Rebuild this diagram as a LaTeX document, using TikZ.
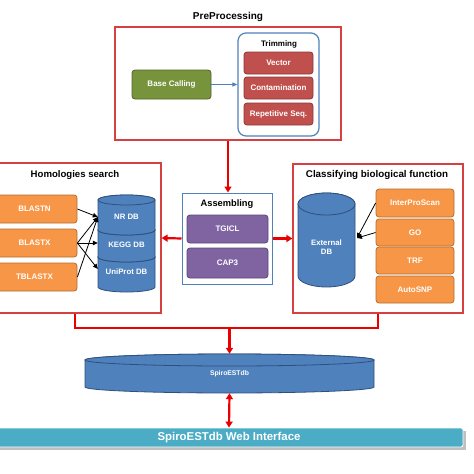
\documentclass[tikz,border=0pt]{standalone}
\usepackage{fontspec}
\setmainfont{Liberation Sans}
\usetikzlibrary{arrows.meta}
\definecolor{grnF}{RGB}{119,147,60}\definecolor{grnD}{RGB}{80,100,40}
\definecolor{redF}{RGB}{192,80,77}\definecolor{redD}{RGB}{140,56,54}
\definecolor{orgF}{RGB}{247,150,70}\definecolor{orgD}{RGB}{182,109,49}
\definecolor{purF}{RGB}{128,100,162}\definecolor{purD}{RGB}{92,71,118}
\definecolor{bluF}{RGB}{79,129,189}\definecolor{bluD}{RGB}{47,80,125}
\definecolor{frameR}{RGB}{214,64,64}
\definecolor{arrR}{RGB}{235,0,0}
\definecolor{teal}{RGB}{75,172,198}
\newcommand\mycyl[6]{%
  \pgfmathsetmacro\rxx{(#3-#2)/2}%
  \filldraw[#1] (#2,#4) -- (#2,#5) arc[start angle=180,end angle=360,x radius=\rxx,y radius=#6] -- (#3,#4) arc[start angle=0,end angle=180,x radius=\rxx,y radius=#6] -- cycle;
  \filldraw[#1] ({(#2+#3)/2},#4) ellipse[x radius=\rxx,y radius=#6];
}
\begin{document}
\begin{tikzpicture}[x=1pt,y=1pt,
  title/.style={font=\bfseries\fontsize{10}{12}\selectfont, text=black},
  sub/.style={font=\bfseries\fontsize{8}{10}\selectfont, text=black},
  lab/.style={rounded corners=3pt, line width=0.8pt, text=white, inner sep=0pt,
     font=\bfseries\fontsize{8}{9.5}\selectfont},
  grn/.style={lab, fill=grnF, draw=grnD},
  rbox/.style={lab, fill=redF, draw=redD},
  obox/.style={lab, fill=orgF, draw=orgD},
  pbox/.style={lab, fill=purF, draw=purD},
  frm/.style={draw=frameR, line width=1.2pt, inner sep=0pt},
  bfrm/.style={draw=bluF, line width=1.2pt, inner sep=0pt},
  dbs/.style={fill=bluF, draw=bluD, line width=0.8pt},
  dblab/.style={text=white, inner sep=0pt, font=\bfseries\fontsize{7.8}{9.5}\selectfont},
  redarr/.style={draw=arrR, line width=2.2pt, -{Triangle[length=6pt,width=7pt]}},
  blkarr/.style={draw=black, line width=0.8pt, -{Triangle[length=5pt,width=4.5pt]}},
]
\useasboundingbox (0,0) rectangle (474,-474);
\clip (0,0) rectangle (474,-474);
\fill[white] (0,0) rectangle (474,-474);

% PreProcessing
\node[title] (pret) at (228,-17) {PreProcessing};
\node[frm, minimum width=226, minimum height=113] (pre) at (228,-83.5) {};
\node[bfrm, rounded corners=8pt, minimum width=81, minimum height=103] (trim) at (278.5,-84.5) {};
\node[sub] (trimt) at (279,-44) {Trimming};
\node[rbox, minimum width=69, minimum height=22] (vec) at (278.5,-63) {Vector};
\node[rbox, minimum width=69, minimum height=22] (cont) at (278.5,-88) {Contamination};
\node[rbox, minimum width=69, minimum height=22] (rep) at (278.5,-114) {Repetitive Seq.};
\node[grn, minimum width=79, minimum height=29] (base) at (171.5,-84.5) {Base Calling};
\draw[draw=bluF, line width=1pt, -{Triangle[length=5pt,width=4pt]}] (base.east) -- (trim.west);

% Assembling
\node[bfrm, line width=1pt, minimum width=90, minimum height=91] (asm) at (227,-238.5) {};
\node[title, font=\bfseries\fontsize{9.3}{11}\selectfont] (asmt) at (227,-204) {Assembling};
\node[pbox, minimum width=81, minimum height=28] (tgicl) at (227.5,-229) {TGICL};
\node[pbox, minimum width=81, minimum height=30] (cap) at (227.5,-263) {CAP3};
\draw[redarr] (pre.south) -- (pre.south |- asm.north);

% Homologies
\node[frm, minimum width=166, minimum height=150] (hom) at (78,-238) {};
\node[title, font=\bfseries\fontsize{9.6}{11}\selectfont] (homt) at (75,-175) {Homologies search};
\node[obox, minimum width=85, minimum height=28] (bn) at (34.5,-209) {BLASTN};
\node[obox, minimum width=85, minimum height=28] (bx) at (34.5,-243) {BLASTX};
\node[obox, minimum width=85, minimum height=28] (tb) at (34.5,-277) {TBLASTX};
\mycyl{dbs}{98}{155}{-257}{-287}{5}
\mycyl{dbs}{98}{155}{-230}{-257}{5}
\mycyl{dbs}{98}{155}{-200}{-230}{5}
\node[dblab, minimum width=57] (nr) at (126.5,-217) {NR DB};
\node[dblab, minimum width=57] (kegg) at (126.5,-245) {KEGG DB};
\node[dblab, minimum width=57] (uni) at (126.5,-272) {UniProt DB};
\draw[blkarr] (bn.east) -- (nr.west);
\draw[blkarr] (bx.east) -- (nr.west);
\draw[blkarr] (bx.east) -- ([yshift=2]kegg.west);
\draw[blkarr] (bx.east) -- ([yshift=3]uni.west);
\draw[blkarr] (tb.east) -- (nr.west);
\draw[redarr] (asm.west) -- (hom.east);

% Classifying
\node[frm, minimum width=170, minimum height=149] (cls) at (378,-238.5) {};
\node[title, font=\bfseries\fontsize{9.8}{11}\selectfont] (clst) at (377,-175) {Classifying biological function};
\mycyl{dbs}{298}{355}{-204}{-276}{11}
\node[dblab, align=center] (ext) at (326.5,-247) {External\\DB};
\coordinate (extin) at (357,-238);
\node[obox, minimum width=78, minimum height=28] (ips) at (415,-203) {InterProScan};
\node[obox, minimum width=78, minimum height=27] (go) at (415,-232.5) {GO};
\node[obox, minimum width=78, minimum height=27] (trf) at (415,-260.5) {TRF};
\node[obox, minimum width=78, minimum height=27] (snp) at (415,-289.5) {AutoSNP};
\draw[blkarr] (ips.west) -- (extin);
\draw[blkarr] (go.west) -- (extin);
\draw[redarr] (asm.east) -- (cls.west);

% SpiroESTdb
\mycyl{dbs}{85}{374}{-360}{-387}{6}
\node[dblab, font=\bfseries\fontsize{6.8}{8}\selectfont, minimum width=289, minimum height=39] (spiro) at (229.5,-373.5) {SpiroESTdb};
\coordinate (jn) at (229.5,-328);
\draw[draw=arrR, line width=2.2pt] ([xshift=-3]hom.south) |- (jn) -| (cls.south);
\draw[redarr] (jn) -- (spiro.north);

% Web interface
\fill[black!25] (-5,-431) rectangle (466,-450);
\node[draw=white, line width=0.8pt, fill=teal, rounded corners=2pt, minimum width=468, minimum height=19, inner sep=0pt, text=white, font=\bfseries\fontsize{11.4}{13}\selectfont] (web) at (229,-437.5) {SpiroESTdb Web Interface};
\draw[draw=arrR, line width=2.2pt, {Triangle[length=6pt,width=7pt]}-{Triangle[length=6pt,width=7pt]}] (spiro.south) -- (web.north);
\end{tikzpicture}
\end{document}
